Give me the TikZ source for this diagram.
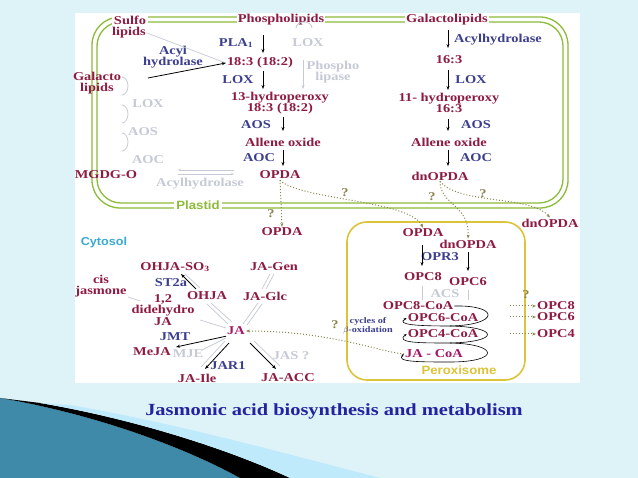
\documentclass[tikz,border=0pt]{standalone}
\usepackage{fontspec}
\setmainfont[FakeStretch=1.2]{Liberation Serif}
\newfontfamily\sansf[FakeStretch=1.1]{Liberation Sans}
\usetikzlibrary{arrows.meta}
\definecolor{bgc}{HTML}{DDF3F8}
\definecolor{mar}{HTML}{8E1B40}
\definecolor{enz}{HTML}{3C3F8E}
\definecolor{fad}{HTML}{C5CAD6}
\definecolor{grn}{HTML}{8DBB3A}
\definecolor{yel}{HTML}{DCC43A}
\definecolor{dot}{HTML}{8A8650}
\definecolor{cyt}{HTML}{3AAAD0}
\definecolor{cap}{HTML}{2323A0}
\begin{document}
\begin{tikzpicture}[x=1pt,y=-1pt,
 m/.style={text=mar,font=\fontsize{12}{11.5}\selectfont\bfseries,inner sep=1pt,align=center},
 e/.style={text=enz,font=\fontsize{12}{11.5}\selectfont\bfseries,inner sep=1pt,align=center},
 f/.style={text=fad,font=\fontsize{12}{11.5}\selectfont\bfseries,inner sep=1pt,align=center},
 ar/.style={-{Stealth[length=4pt]},black,line width=0.8pt},
 far/.style={-{Stealth[length=4pt]},fad,line width=0.7pt},
 dar/.style={-{Stealth[length=4pt]},dot,dotted,line width=1pt},
 lp/.style={black,line width=0.6pt,-{Stealth[length=3pt]}},
 q/.style={text=dot,font=\fontsize{12}{11}\selectfont\bfseries,inner sep=0pt}]
\fill[bgc] (0,0) rectangle (638,478);
\useasboundingbox (0,0) rectangle (638,478);
% swoosh
\fill[cyan!60!teal!80!black] (0,398) .. controls (100,415) and (190,450) .. (240,478) -- (0,478) -- cycle;
\fill[black] (40,403) .. controls (140,420) and (235,452) .. (290,478) -- (240,478) .. controls (190,450) and (100,415) .. (0,398) -- cycle;
\fill[cyan!25] (70,405) .. controls (170,422) and (280,452) .. (380,478) -- (290,478) .. controls (235,452) and (140,420) .. (40,403) -- cycle;
\fill[white] (75,13) rectangle (580,383);
% plastid
\draw[grn,line width=1.3pt,rounded corners=28pt] (92,17) rectangle (568,208);
\draw[grn,line width=1.3pt,rounded corners=24pt] (97,22) rectangle (563,203);
% peroxisome
\draw[yel,line width=1.6pt,rounded corners=20pt] (347,222) rectangle (525,380);
\node[fill=white,text=grn,font=\sansf\bfseries\fontsize{12}{11}\selectfont,inner sep=2pt] (pl) at (198,205) {Plastid};
\node[fill=white,text=yel,font=\sansf\bfseries\fontsize{12}{11}\selectfont,inner sep=2pt] (px) at (459,370) {Peroxisome};
\node[text=cyt,font=\sansf\bfseries\fontsize{11.5}{11}\selectfont] (cy) at (104,243) {Cytosol};
% top labels
\node[m,fill=white,inner sep=1.5pt] (sul) at (130,20) {Sulfo};
\node[m] (sul2) at (129,33) {lipids};
\node[m,fill=white] (pho) at (281,20) {Phospholipids};
\node[m,fill=white] (gal) at (447,20) {Galactolipids};
\node[m] (ga) at (97,76) {Galacto};
\node[m] (ga2) at (97,89) {lipids};
\node[e] (acy) at (173,57) {Acyl\\hydrolase};
\node[e] (pla) at (236,43) {PLA\textsubscript{1}};
\node[m] (c18) at (260,63) {18:3 (18:2)};
\node[e] (lox1) at (238,80) {LOX};
\node[m] (h13) at (280,103) {13-hydroperoxy\\18:3 (18:2)};
\node[e] (aos1) at (256,125) {AOS};
\node[m] (al1) at (283,142) {Allene oxide};
\node[e] (aoc1) at (259,158) {AOC};
\node[m] (opda) at (280,175) {OPDA};
\node[m] (mgdg) at (106,175) {MGDG-O};
\node[f] (ah2) at (200,184) {Acylhydrolase};
\node[f] (flox) at (308,43) {LOX};
\node[f] (fpl) at (333,72) {Phospho\\lipase};
\node[f] (flox2) at (148,104) {LOX};
\node[f] (faos) at (143,132) {AOS};
\node[f] (faoc) at (148,160) {AOC};
\draw[fad,line width=0.8pt] (296,28) arc (180:360:8 and 6);
\foreach \yy in {104,132,160}{\draw[fad,line width=0.8pt] (122,\yy-9) arc (90:-90:6 and 9);}
\draw[ar] (263,35) -- (263,53);
\draw[ar] (263,71) -- (263,89);
\draw[ar] (283,117) -- (283,131);
\draw[ar] (283,150) -- (283,166);
\draw[fad,line width=0.7pt] (sul2.east) -- (c18.west);
\draw[ar] (148,78) -- (c18.west);
\draw[far] (303,60) -- (303,89);
\draw[fad,line width=0.7pt,{Stealth[length=3pt]}-] (178,170) -- (234,170);
\draw[fad,line width=0.7pt,-{Stealth[length=3pt]}] (178,174) -- (234,174);
% right column
\node[e] (acy2) at (498,40) {Acylhydrolase};
\node[m] (c16) at (449,60) {16:3};
\node[e] (lox2) at (471,80) {LOX};
\node[m] (h11) at (449,103) {11- hydroperoxy\\16:3};
\node[e] (aos2) at (476,125) {AOS};
\node[m] (al2) at (449,142) {Allene oxide};
\node[e] (aoc2) at (476,158) {AOC};
\node[m] (dn) at (440,176) {dnOPDA};
\draw[ar] (448,30) -- (448,48);
\draw[ar] (448,70) -- (448,90);
\draw[ar] (448,119) -- (448,131);
\draw[ar] (448,150) -- (448,166);
% dotted transfers
\node[m] (opdac) at (282,232) {OPDA};
\node[m] (po) at (423,233) {OPDA};
\node[m] (pdn) at (468,244) {dnOPDA};
\node[m] (dno) at (550,223) {dnOPDA};
\draw[dar] (opda.south) -- (opdac.north);
\draw[dar] (opda.south) .. controls (300,200) and (410,200) .. (po.north);
\draw[dar] (dn.south) .. controls (440,205) and (470,205) .. (pdn.north);
\draw[dar] (dn.south) .. controls (460,205) and (530,195) .. (dno.north);
\node[q] (q1) at (271,214) {?};
\node[q] (q2) at (345,193) {?};
\node[q] (q3) at (432,197) {?};
\node[q] (q4) at (483,194) {?};
% peroxisome content
\node[e] (opr) at (440,257) {OPR3};
\node[m] (o8) at (423,277) {OPC8};
\node[m] (o6) at (468,282) {OPC6};
\draw[ar] (422,245) -- (422,266);
\draw[ar] (468,252) -- (468,271);
\node[f] (acs) at (445,294) {ACS};
\draw[fad,line width=0.7pt] (422,286) -- (422,300);
\draw[fad,line width=0.7pt] (468,290) -- (468,300);
\node[m] (o8c) at (418,306) {OPC8-CoA};
\node[m] (o6c) at (443,318) {OPC6-CoA};
\node[m] (o4c) at (443,334) {OPC4-CoA};
\node[m,text=mar!80!magenta] (jac) at (434,354) {JA - CoA};
\node[e,font=\fontsize{8.5}{8.5}\selectfont\bfseries] (cyc) at (368,326) {cycles of\\$\beta$-oxidation};
\draw[lp] (o8c.east) .. controls (500,305) and (500,325) .. (450,326) .. controls (420,326) and (395,325) .. (o6c.west);
\draw[lp] (450,326) .. controls (500,327) and (500,342) .. (450,343) .. controls (420,343) and (395,343) .. (o4c.west);
\draw[lp] (450,343) .. controls (500,344) and (500,362) .. (450,362) .. controls (420,362) and (395,362) .. (jac.west);
\node[m] (r8) at (556,306) {OPC8};
\node[m] (r6) at (556,317) {OPC6};
\node[m] (r4) at (556,334) {OPC4};
\node[q] (q5) at (526,295) {?};
\draw[dar] (510,306) -- (r8.west);
\draw[dar] (510,317) -- (r6.west);
\draw[dar] (510,334) -- (r4.west);
% cytosol metabolism
\node[m] (ja) at (236,331) {\color{mar!80!magenta}JA};
\node[q] (q6) at (335,325) {?};
\draw[dar] (jac.west) .. controls (380,352) and (330,331) .. (ja.east);
\node[m] (ohs) at (175,267) {OHJA-SO\textsubscript{3}};
\node[m] (jgen) at (274,267) {JA-Gen};
\node[m] (cis) at (101,286) {cis\\jasmone};
\node[e] (st) at (171,283) {ST2a};
\node[m] (oh) at (207,296) {OHJA};
\node[m] (jglc) at (265,296) {JA-Glc};
\node[m] (dd) at (163,310) {1,2\\didehydro\\JA};
\node[e] (jmt) at (175,337) {JMT};
\node[m] (mj) at (152,352) {MeJA};
\node[f] (mje) at (188,354) {MJE};
\node[e] (jar) at (228,366) {JAR1};
\node[f] (jas) at (291,356) {JAS ?};
\node[m] (jai) at (197,378) {JA-Ile};
\node[m] (jaa) at (288,378) {JA-ACC};
\draw[ar] (196,289) -- (181,274);
\draw[fad,line width=0.7pt] (200,288) -- (185,274);
\draw[fad,line width=0.7pt] (207,304) -- (228,324);
\draw[fad,line width=0.7pt] (211,303) -- (232,322);
\draw[fad,line width=0.7pt] (270,274) -- (262,289);
\draw[fad,line width=0.7pt] (274,274) -- (266,289);
\draw[fad,line width=0.7pt] (258,303) -- (243,324);
\draw[fad,line width=0.7pt] (262,304) -- (247,325);
\draw[fad,line width=0.7pt] (128,297) -- (140,301);
\draw[fad,line width=0.7pt] (200,320) -- (226,328);
\draw[ar] (ja.south west) -- (176,347);
\draw[fad,line width=0.7pt] (226,338) -- (202,350);
\draw[ar] (229,343) -- (205,369);
\draw[fad,line width=0.7pt] (225,341) -- (201,367);
\draw[ar] (250,343) -- (276,369);
\draw[fad,line width=0.7pt] (254,341) -- (280,366);
% caption
\node[text=cap,font=\fontsize{17}{18}\selectfont\bfseries] (cap) at (334,411) {Jasmonic acid biosynthesis and metabolism};
\end{tikzpicture}
\end{document}
